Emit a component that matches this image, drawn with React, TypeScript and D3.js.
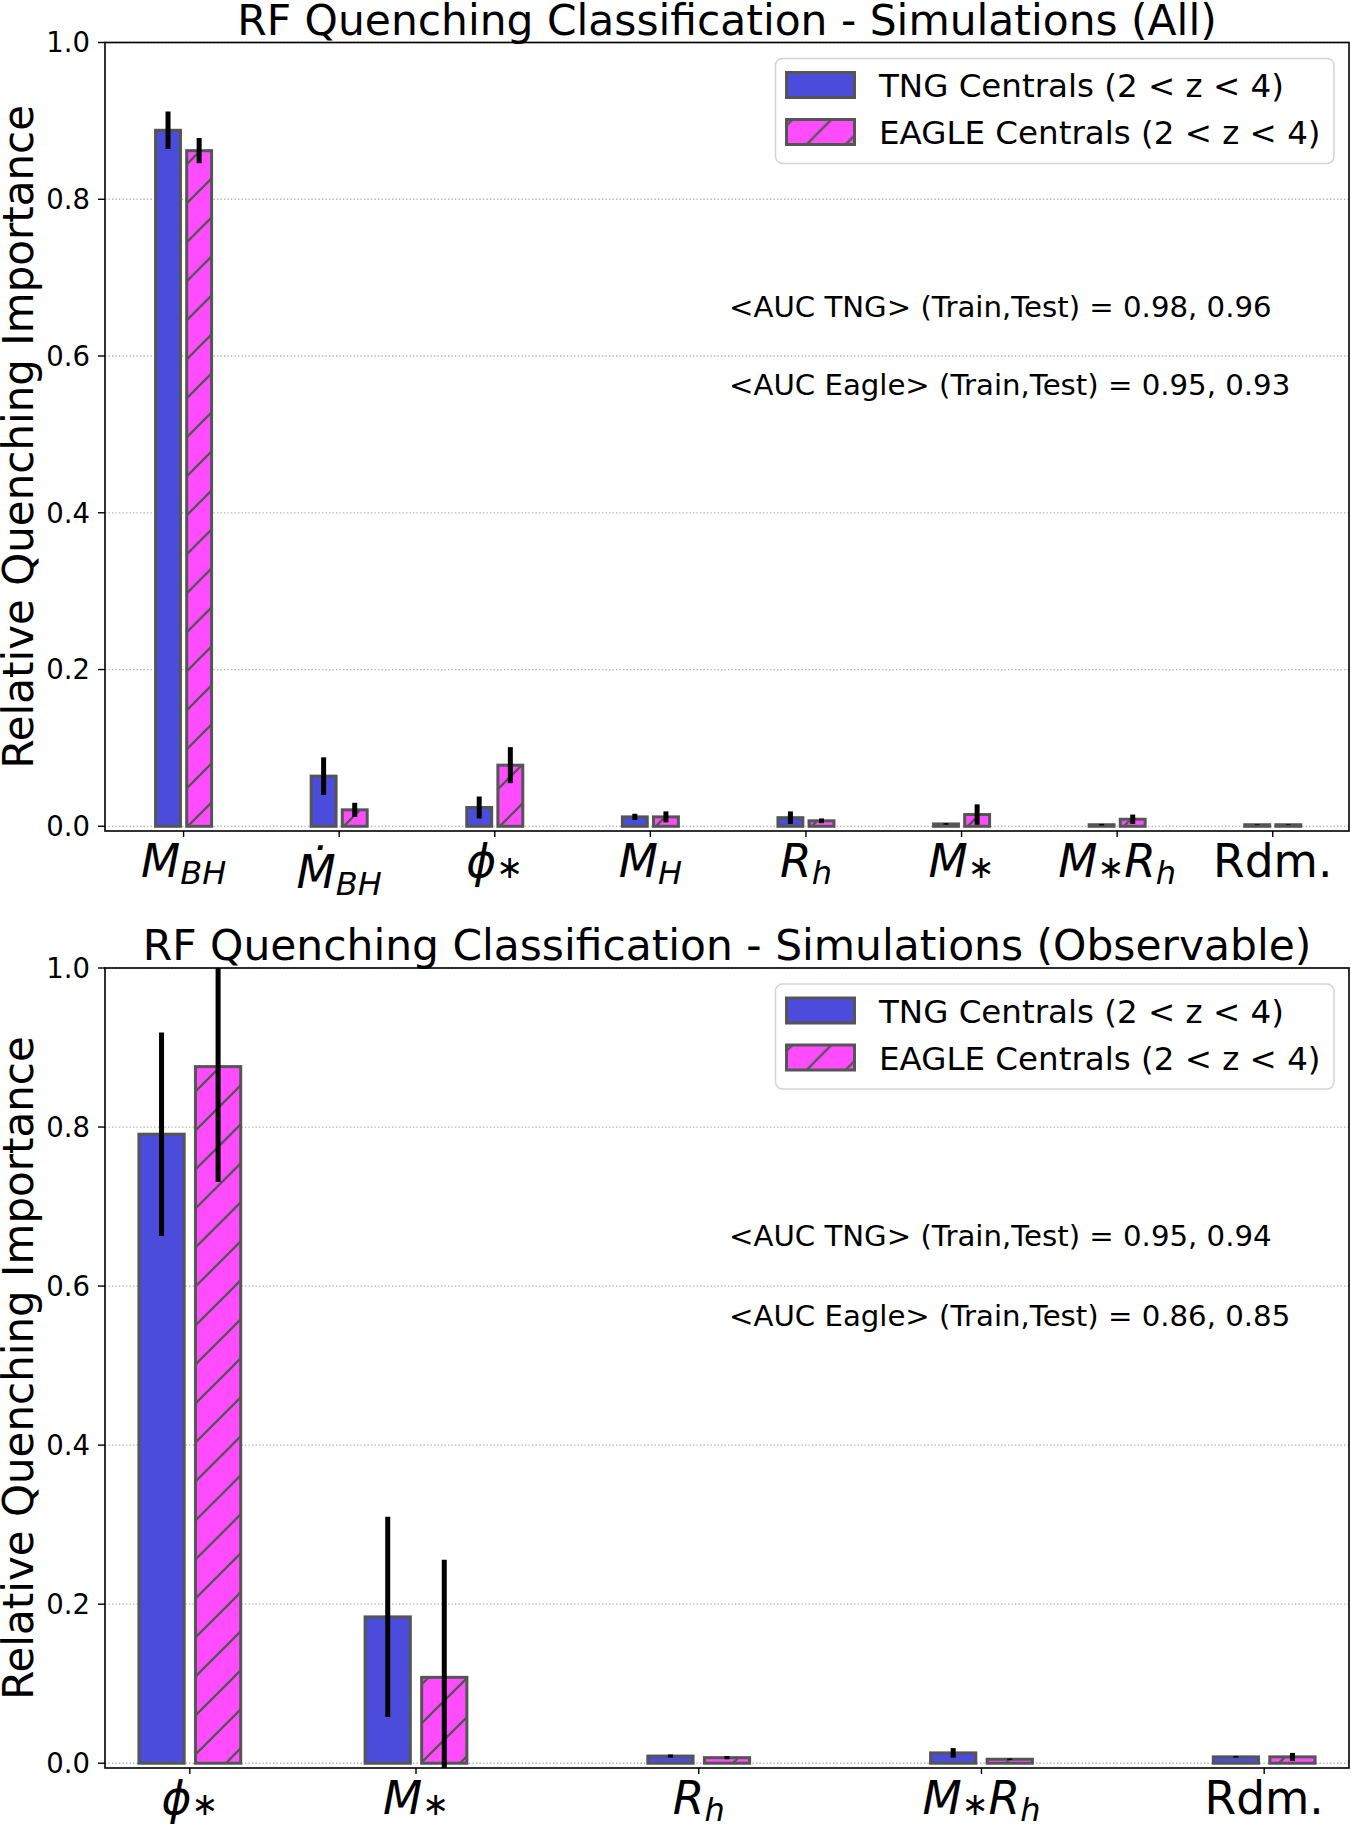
import { useRef, useEffect } from "react";
import * as d3 from "d3";

// feature importances, "All" simulation run
const allFeatures = ["M_BH", "Mdot_BH", "phi_*", "M_H", "R_h", "M_*", "M_*R_h", "Rdm."];
const allTng = [0.888, 0.064, 0.024, 0.012, 0.011, 0.003, 0.002, 0.002];
const allTngErr = [0.024, 0.024, 0.014, 0.004, 0.008, 0.001, 0.001, 0.0005];
const allEagle = [0.862, 0.021, 0.078, 0.012, 0.007, 0.015, 0.009, 0.002];
const allEagleErr = [0.016, 0.009, 0.023, 0.007, 0.003, 0.013, 0.006, 0.0005];
const allAucTng = [0.98, 0.96];
const allAucEagle = [0.95, 0.93];

// feature importances, observable-only run
const obsFeatures = ["phi_*", "M_*", "R_h", "M_*R_h", "Rdm."];
const obsPositions = [0, 0.8, 1.8, 2.8, 3.8];
const obsTng = [0.791, 0.184, 0.009, 0.013, 0.008];
const obsTngErr = [0.128, 0.126, 0.002, 0.006, 0.001];
const obsEagle = [0.876, 0.108, 0.007, 0.005, 0.008];
const obsEagleErr = [0.145, 0.148, 0.002, 0.001, 0.005];
const obsAucTng = [0.95, 0.94];
const obsAucEagle = [0.86, 0.85];

const yTicks = [0, 0.2, 0.4, 0.6, 0.8, 1.0];
const seriesNames = ["TNG Centrals (2 < z < 4)", "EAGLE Centrals (2 < z < 4)"];

// math-style tick labels: [base, subscript] pairs
const STAR = "\u2217";
const mathLabels: Record<string, [string, string][]> = {
	M_BH: [["M", "BH"]],
	Mdot_BH: [["\u1E40", "BH"]],
	"phi_*": [["\u03D5", STAR]],
	M_H: [["M", "H"]],
	R_h: [["R", "h"]],
	"M_*": [["M", STAR]],
	"M_*R_h": [["M", STAR], ["R", "h"]],
};

const FONT = "DejaVu Sans";
const TNG_COLOR = "#4c4cdc";
const EAGLE_COLOR = "#ff4cff";
const EDGE = "#555555";

const App = () => {
	const svgRef = useRef<SVGSVGElement | null>(null);

	useEffect(() => {
		const svg = d3.select(svgRef.current);
		svg.selectAll("*").remove();

		const defs = svg.append("defs");
		const hatch = defs
			.append("pattern")
			.attr("id", "hatch")
			.attr("patternUnits", "userSpaceOnUse")
			.attr("width", 39)
			.attr("height", 39);
		hatch.append("rect").attr("width", 39).attr("height", 39).attr("fill", EAGLE_COLOR);
		hatch
			.append("path")
			.attr("d", "M-5,5 L5,-5 M0,39 L39,0 M34,44 L44,34")
			.attr("stroke", EDGE)
			.attr("stroke-width", 2.3);

		const left = 105;
		const right = 1349;

		const panels = [
			{
				id: "all",
				title: "RF Quenching Classification - Simulations (All)",
				top: 42.5,
				bottom: 831,
				features: allFeatures,
				positions: allFeatures.map((_, i) => i),
				xDomain: [-0.505, 7.49],
				tng: allTng,
				tngErr: allTngErr,
				eagle: allEagle,
				eagleErr: allEagleErr,
				aucTng: allAucTng,
				aucEagle: allAucEagle,
			},
			{
				id: "obs",
				title: "RF Quenching Classification - Simulations (Observable)",
				top: 968,
				bottom: 1768,
				features: obsFeatures,
				positions: obsPositions,
				xDomain: [-0.3, 4.1],
				tng: obsTng,
				tngErr: obsTngErr,
				eagle: obsEagle,
				eagleErr: obsEagleErr,
				aucTng: obsAucTng,
				aucEagle: obsAucEagle,
			},
		];

		const barW = 0.16;
		const offset = 0.1;

		panels.forEach((p) => {
			const x = d3.scaleLinear().domain(p.xDomain).range([left, right]);
			const y = d3.scaleLinear().domain([-0.006, 1]).range([p.bottom, p.top]);
			const g = svg.append("g");

			defs
				.append("clipPath")
				.attr("id", `clip-${p.id}`)
				.append("rect")
				.attr("x", left)
				.attr("y", p.top)
				.attr("width", right - left)
				.attr("height", p.bottom - p.top);

			// dotted horizontal grid
			g.selectAll(".grid")
				.data(yTicks)
				.enter()
				.append("line")
				.attr("x1", left)
				.attr("x2", right)
				.attr("y1", (d) => y(d))
				.attr("y2", (d) => y(d))
				.attr("stroke", "#b0b0b0")
				.attr("stroke-width", 1.3)
				.attr("stroke-dasharray", "1.3,2.2");

			const plot = g.append("g").attr("clip-path", `url(#clip-${p.id})`);

			const series = [
				{ vals: p.tng, errs: p.tngErr, fill: TNG_COLOR, dx: -offset },
				{ vals: p.eagle, errs: p.eagleErr, fill: "url(#hatch)", dx: offset },
			];

			series.forEach((s) => {
				plot.selectAll(null)
					.data(s.vals)
					.enter()
					.append("rect")
					.attr("x", (d, i) => x(p.positions[i] + s.dx - barW / 2))
					.attr("width", x(barW) - x(0))
					.attr("y", (d) => y(d))
					.attr("height", (d) => y(0) - y(d))
					.attr("fill", s.fill)
					.attr("stroke", EDGE)
					.attr("stroke-width", 3);
			});

			series.forEach((s) => {
				plot.selectAll(null)
					.data(s.vals)
					.enter()
					.append("line")
					.attr("x1", (d, i) => x(p.positions[i] + s.dx))
					.attr("x2", (d, i) => x(p.positions[i] + s.dx))
					.attr("y1", (d, i) => y(d - s.errs[i]))
					.attr("y2", (d, i) => y(d + s.errs[i]))
					.attr("stroke", "#000")
					.attr("stroke-width", 5);
			});

			// frame
			g.append("rect")
				.attr("x", left)
				.attr("y", p.top)
				.attr("width", right - left)
				.attr("height", p.bottom - p.top)
				.attr("fill", "none")
				.attr("stroke", "#000")
				.attr("stroke-width", 1.6);

			// y axis ticks
			yTicks.forEach((t) => {
				g.append("line")
					.attr("x1", left - 7)
					.attr("x2", left)
					.attr("y1", y(t))
					.attr("y2", y(t))
					.attr("stroke", "#000")
					.attr("stroke-width", 1.4);
				g.append("text")
					.attr("x", left - 15)
					.attr("y", y(t))
					.attr("dy", "0.36em")
					.attr("text-anchor", "end")
					.attr("font-family", FONT)
					.attr("font-size", 27.5)
					.text(d3.format(".1f")(t));
			});

			// x axis ticks and math labels
			p.features.forEach((f, i) => {
				const xp = x(p.positions[i]);
				g.append("line")
					.attr("x1", xp)
					.attr("x2", xp)
					.attr("y1", p.bottom)
					.attr("y2", p.bottom + 6)
					.attr("stroke", "#000")
					.attr("stroke-width", 1.4);

				const base = p.bottom + 46 + (f.startsWith("Mdot") ? 11 : 0);
				const label = g
					.append("text")
					.attr("x", xp)
					.attr("y", base)
					.attr("text-anchor", "middle")
					.attr("font-family", FONT)
					.attr("font-size", 45.5);

				const parts = mathLabels[f];
				if (!parts) {
					label.text(f);
					return;
				}
				let shift = 0;
				parts.forEach(([b, sub]) => {
					label.append("tspan")
						.attr("font-style", "italic")
						.attr("dy", -shift)
						.text(b);
					// the star sits higher than letter subscripts
					shift = sub === STAR ? 1 : 7;
					label.append("tspan")
						.attr("font-style", sub === STAR ? "normal" : "italic")
						.attr("font-size", 32)
						.attr("dy", shift)
						.text(sub);
				});
			});

			// y label
			const cy = (p.top + p.bottom) / 2;
			g.append("text")
				.attr("transform", `translate(33,${cy}) rotate(-90)`)
				.attr("text-anchor", "middle")
				.attr("font-family", FONT)
				.attr("font-size", 42)
				.text("Relative Quenching Importance");

			// title
			g.append("text")
				.attr("x", (left + right) / 2)
				.attr("y", p.top - 8)
				.attr("text-anchor", "middle")
				.attr("font-family", FONT)
				.attr("font-size", 42.4)
				.text(p.title);

			// AUC annotations
			const fmt = d3.format(".2f");
			[
				`<AUC TNG> (Train,Test) = ${fmt(p.aucTng[0])}, ${fmt(p.aucTng[1])}`,
				`<AUC Eagle> (Train,Test) = ${fmt(p.aucEagle[0])}, ${fmt(p.aucEagle[1])}`,
			].forEach((txt, k) => {
				g.append("text")
					.attr("x", 729)
					.attr("y", y(k === 0 ? 0.65 : 0.55))
					.attr("font-family", FONT)
					.attr("font-size", 29.2)
					.text(txt);
			});

			// legend
			const lg = g.append("g").attr("transform", `translate(775.5,${p.top + 16})`);
			lg.append("rect")
				.attr("width", 558.5)
				.attr("height", 105)
				.attr("rx", 7)
				.attr("fill", "#fff")
				.attr("fill-opacity", 0.8)
				.attr("stroke", "#d4d4d4")
				.attr("stroke-width", 1.5);
			seriesNames.forEach((name, k) => {
				lg.append("rect")
					.attr("x", 11)
					.attr("y", 14 + k * 47)
					.attr("width", 68)
					.attr("height", 25)
					.attr("fill", k === 0 ? TNG_COLOR : "url(#hatch)")
					.attr("stroke", EDGE)
					.attr("stroke-width", 3);
				lg.append("text")
					.attr("x", 103.5)
					.attr("y", 38.5 + k * 47)
					.attr("font-family", FONT)
					.attr("font-size", 32.5)
					.text(name);
			});
		});
	}, []);

	return (
		<svg
			ref={svgRef}
			width={1351}
			height={1830}
			style={{ position: "absolute", left: 0, top: 0, background: "#fff" }}
		/>
	);
};

export default App;
